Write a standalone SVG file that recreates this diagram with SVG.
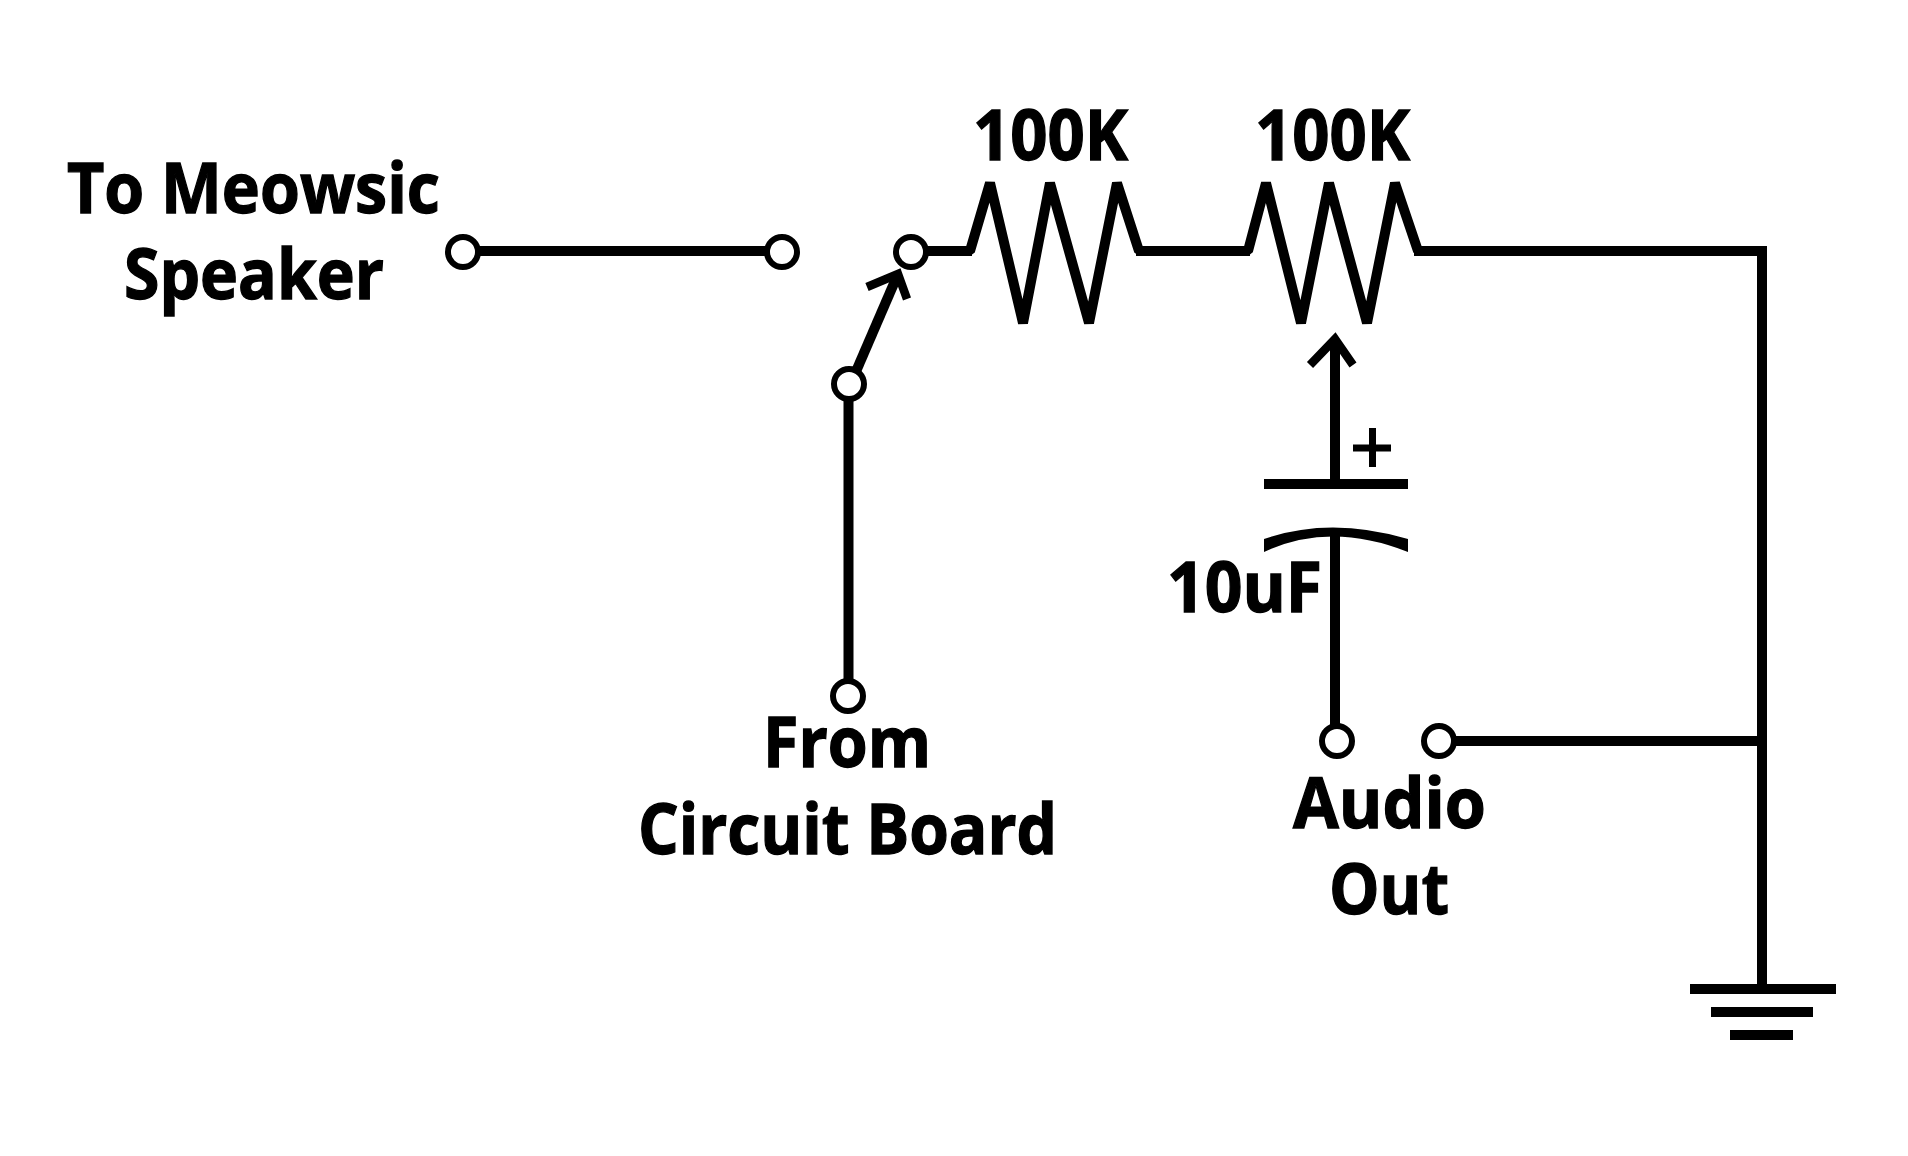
<svg xmlns="http://www.w3.org/2000/svg" width="1908" height="1156" viewBox="0 0 1908 1156">
<style>
.w{fill:none;stroke:#000;stroke-width:10;stroke-linecap:butt;stroke-linejoin:miter}
.a{fill:none;stroke:#000;stroke-width:8.500;stroke-linecap:butt;stroke-linejoin:miter}
.z{fill:none;stroke:#000;stroke-width:10;stroke-linejoin:bevel}
.b{fill:#000;stroke:none}
.t{font-family:"Open Sans","Noto Sans","Liberation Sans",sans-serif;font-weight:700;font-size:69px;fill:#000;stroke:#000;stroke-width:1.300}
.p{fill:#fff;stroke:#000;stroke-width:6}
</style>
<rect width="1908" height="1156" fill="#fff"/>
<g id="connectors">
<path class="w" d="M463 251H782"/>
<path class="w" d="M910 251H972"/>
<path class="w" d="M1136 251H1250"/>
<path class="w" d="M1414 251H1762V990"/>
<path class="w" d="M848.500 383V694"/>
<path class="w" d="M851 383L898 274"/>
<path class="w" d="M1335 484V340"/>
<path class="w" d="M1335 530V741"/>
<path class="w" d="M1439 741H1762"/>
</g>
<g id="switch-arrow"><path class="a" d="M867 287L898 274L907 299"/></g>
<g id="resistor-1"><path class="z" d="M968 251H970L990 183L1023 323L1050 183L1089 323L1117 183L1139 251H1141"/><text class="t" x="973" y="160" textLength="155" lengthAdjust="spacingAndGlyphs">100K</text></g>
<g id="resistor-2"><path class="z" d="M1246 251H1248L1266 183L1301 323L1329 183L1367 323L1395 183L1418 251H1420"/><text class="t" x="1255" y="160" textLength="155" lengthAdjust="spacingAndGlyphs">100K</text></g>
<g id="wiper-arrow"><path class="a" d="M1310 365L1335 339L1353 365"/></g>
<g id="capacitor">
<rect class="b" x="1264" y="479" width="144" height="10"/>
<path class="b" d="M1264 539Q1330 516 1408 539V552Q1330 521 1264 552Z"/>
<rect class="b" x="1374" y="428" width="7" height="39" transform="translate(-5 0)"/>
<rect class="b" x="1353" y="444.500" width="38" height="7"/>
<text class="t" x="1167" y="612" textLength="155" lengthAdjust="spacingAndGlyphs">10uF</text>
</g>
<g id="ground">
<rect class="b" x="1690" y="984" width="146" height="10"/>
<rect class="b" x="1711" y="1007" width="102" height="10"/>
<rect class="b" x="1730" y="1030" width="63" height="10"/>
</g>
<g id="terminal-speaker-a"><circle class="p" cx="463" cy="252" r="15"/></g>
<g id="terminal-speaker-b"><circle class="p" cx="782" cy="252" r="15"/></g>
<g id="terminal-switch-top"><circle class="p" cx="911" cy="252" r="15"/></g>
<g id="terminal-switch-common"><circle class="p" cx="849" cy="384" r="15"/></g>
<g id="terminal-board"><circle class="p" cx="848" cy="696" r="15"/></g>
<g id="terminal-audio-a"><circle class="p" cx="1337" cy="741" r="15"/></g>
<g id="terminal-audio-b"><circle class="p" cx="1439" cy="741" r="15"/></g>
<g id="label-speaker"><text class="t" x="67" y="213" textLength="373" lengthAdjust="spacingAndGlyphs">To Meowsic</text><text class="t" x="124" y="299" textLength="260" lengthAdjust="spacingAndGlyphs">Speaker</text></g>
<g id="label-board"><text class="t" x="763" y="767" textLength="168" lengthAdjust="spacingAndGlyphs">From</text><text class="t" x="638" y="854" textLength="419" lengthAdjust="spacingAndGlyphs">Circuit Board</text></g>
<g id="label-audio"><text class="t" x="1293" y="828" textLength="193" lengthAdjust="spacingAndGlyphs">Audio</text><text class="t" x="1329" y="914" textLength="120" lengthAdjust="spacingAndGlyphs">Out</text></g>
</svg>
